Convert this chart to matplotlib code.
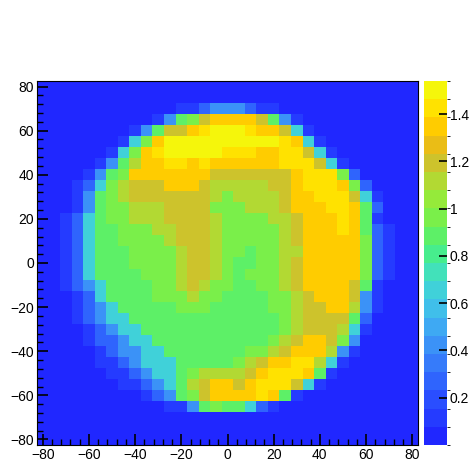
import numpy as np
import matplotlib
matplotlib.use("Agg")
import matplotlib.pyplot as plt
from matplotlib.colors import LinearSegmentedColormap, ListedColormap, BoundaryNorm

x_edges_range = (-82.5, 82.5)
n_bins = 33
levels = {'.': 0.01, '1': 0.12, '2': 0.3, '3': 0.45, '4': 0.62, '5': 0.85, '6': 1.0,
          '7': 1.1, '8': 1.2, '9': 1.33, 'A': 1.45, 'B': 1.52}
rows = [
    "." * 33,
    "." * 33,
    "............112333211............",
    ".........." + "1356899998531" + "..........",
    "........" + "135889ABBBA99841" + ".........",
    "......." + "1469BBBBBBBBBBA941" + "........",
    "......" + "1469ABBBBBAAA99AA841" + ".......",
    "....." + "135799AA9A999999AAA841" + "......",
    "...." + "1356999999988888889AAA62" + ".....",
    "..." + "12467888999877777889AAA962" + "....",
    "..." + "135678888888767777899AAA841" + "...",
    "..." + "1356677788886667778999AA952" + "...",
    ".." + "124566777888876666778999A951" + "...",
    ".." + "124556667788876666678999A9521" + "..",
    ".." + "12455666678887666667899999621" + "..",
    ".." + "12455566667887665667799999621" + "..",
    ".." + "12455566667887655667899999621" + "..",
    ".." + "12455556667887656667899999621" + "..",
    ".." + "1234555566787665566789999851" + "...",
    "..." + "124555566676655556678999831" + "...",
    "..." + "123455555666555556678899731" + "...",
    "..." + "12344" + "5555555555555" + "67888852" + "....",
    "...." + "12344" + "555555555555" + "67888741" + "....",
    "...." + "122344" + "5555555555" + "67899863" + ".....",
    "....." + "123344" + "5555555" + "6678999731" + ".....",
    "....." + "1123444" + "55555" + "678" + "99AA741" + "......",
    "......" + "11234456777789AAA951" + ".......",
    "......." + "112345789989AAA841" + "........",
    "........." + "1235689999A951" + "..........",
    "..........." + "1135655421" + "............",
    "." * 33,
    "." * 33,
    "." * 33,
]
x_ticks = [-80, -60, -40, -20, 0, 20, 40, 60, 80]
cbar_ticks = [0.2, 0.4, 0.6, 0.8, 1, 1.2, 1.4]
zmax = 1.54

z = np.array([[levels[c] for c in r] for r in rows])[::-1]
edges = np.linspace(*x_edges_range, n_bins + 1)

base = LinearSegmentedColormap.from_list("bird", [
    (0.0, "#1e1eff"), (0.13, "#2a50ff"), (0.26, "#3a8cf8"), (0.36, "#40b8f0"),
    (0.45, "#40dcd0"), (0.54, "#48f080"), (0.61, "#70f050"), (0.68, "#98ea38"),
    (0.75, "#c0d030"), (0.80, "#d8b828"), (0.86, "#ffc400"), (0.93, "#ffe400"),
    (1.0, "#f0ff10")])
nlev = 20
bounds = np.linspace(0, zmax, nlev + 1)
cmap = ListedColormap(base((np.arange(nlev) + 0.5) / nlev))
norm = BoundaryNorm(bounds, nlev)

plt.rcParams['font.family'] = ['Liberation Sans', 'DejaVu Sans']
fig = plt.figure(figsize=(4.74, 4.74), dpi=100)
ax = fig.add_axes([37/474, 29/474, 381/474, 364/474])
m = ax.pcolormesh(edges, edges, z, cmap=cmap, norm=norm)
ax.set_xlim(*x_edges_range); ax.set_ylim(*x_edges_range)
ax.set_xticks(x_ticks); ax.set_yticks(x_ticks)
ax.set_xticks(np.arange(-80, 81, 4), minor=True)
ax.set_yticks(np.arange(-80, 81, 4), minor=True)
ax.set_xticklabels([str(t).replace('-', '\u2212') for t in x_ticks])
ax.set_yticklabels([str(t).replace('-', '\u2212') for t in x_ticks])
ax.tick_params(which='both', direction='in', top=False, right=False, labelsize=10, color='black')
ax.tick_params(which='major', length=8, width=1.2, pad=2)
ax.tick_params(which='minor', length=4, width=1)

cax = fig.add_axes([424/474, 29/474, 23/474, 364/474])
cb = fig.colorbar(m, cax=cax, ticks=cbar_ticks)
cb.outline.set_visible(False)
cax.set_yticklabels(['0.2', '0.4', '0.6', '0.8', '1', '1.2', '1.4'])
cax.tick_params(direction='in', length=6, width=1.2, labelsize=10, pad=2)
fig.savefig("out.png", dpi=100)
